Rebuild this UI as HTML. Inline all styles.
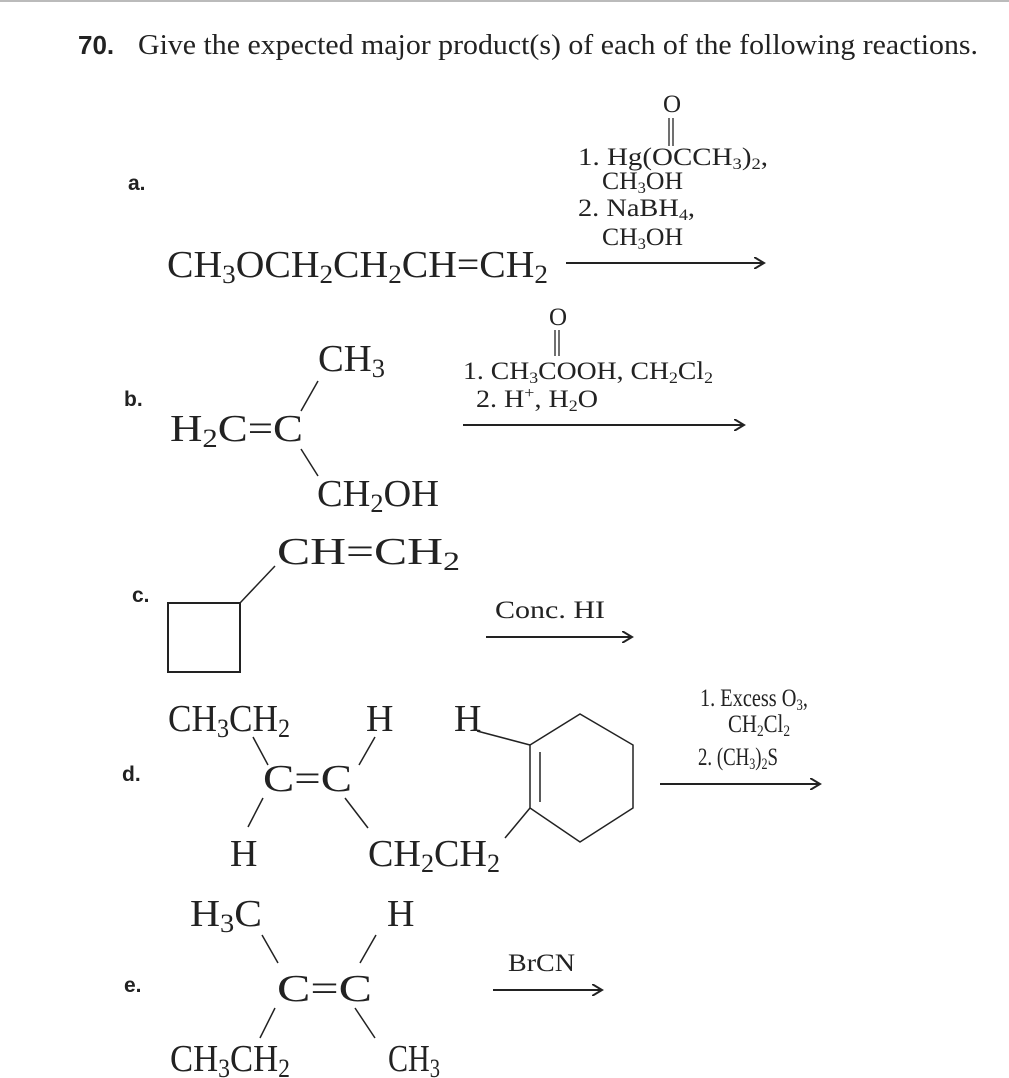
<!DOCTYPE html>
<html><head><meta charset="utf-8"><style>
html,body{margin:0;padding:0;background:#fff;}
svg{display:block}
text{font-family:"Liberation Serif",serif;fill:#222;}
.l{font-family:"Liberation Sans",sans-serif;font-weight:bold;font-size:21px;}
.big{font-size:38px;}
.r{font-size:25px;}
</style></head><body>
<svg width="1009" height="1078" viewBox="0 0 1009 1078" xmlns="http://www.w3.org/2000/svg">
<defs><marker id="ah" markerWidth="12" markerHeight="12" refX="10" refY="6" orient="auto" markerUnits="userSpaceOnUse"><path d="M0,0 L10,6 L0,12" fill="none" stroke="#222" stroke-width="2"/></marker></defs>
<line x1="0" y1="1" x2="1009" y2="1" stroke="#bbb" stroke-width="2"/>
<text x="78" y="54" style="font-family:'Liberation Sans',sans-serif;font-weight:bold;font-size:26px">70.</text>
<text x="138" y="54" style="font-size:28px" textLength="840" lengthAdjust="spacingAndGlyphs">Give the expected major product(s) of each of the following reactions.</text>

<g stroke="#222" stroke-width="2" fill="none">
<line x1="566" y1="263" x2="764" y2="263" marker-end="url(#ah)"/>
<line x1="669" y1="118" x2="669" y2="146" stroke-width="1.3"/><line x1="673" y1="118" x2="673" y2="146" stroke-width="1.3"/>
<line x1="318" y1="381" x2="301" y2="411" stroke-width="1.5"/>
<line x1="301" y1="449" x2="318" y2="476" stroke-width="1.5"/>
<line x1="463" y1="425" x2="744" y2="425" marker-end="url(#ah)"/>
<line x1="555" y1="330" x2="555" y2="356" stroke-width="1.3"/><line x1="559" y1="330" x2="559" y2="356" stroke-width="1.3"/>
<rect x="168" y="603" width="72" height="69" stroke-width="2"/>
<line x1="240" y1="603" x2="275" y2="566" stroke-width="1.5"/>
<line x1="486" y1="637" x2="632" y2="637" marker-end="url(#ah)"/>
<line x1="253" y1="737" x2="268" y2="765" stroke-width="1.5"/>
<line x1="375" y1="737" x2="359" y2="765" stroke-width="1.5"/>
<line x1="263" y1="798" x2="248" y2="827" stroke-width="1.5"/>
<line x1="345" y1="798" x2="368" y2="828" stroke-width="1.5"/>
<line x1="477" y1="731" x2="530" y2="745" stroke-width="1.5"/>
<polygon points="530,745 580,714 633,745 633,808 580,842 530,808" stroke-width="1.5"/>
<line x1="540" y1="752" x2="540" y2="802" stroke-width="1.5"/>
<line x1="505" y1="838" x2="530" y2="808" stroke-width="1.5"/>
<line x1="660" y1="784" x2="820" y2="784" marker-end="url(#ah)"/>
<line x1="262" y1="935" x2="278" y2="963" stroke-width="1.5"/>
<line x1="376" y1="935" x2="360" y2="963" stroke-width="1.5"/>
<line x1="275" y1="1008" x2="260" y2="1038" stroke-width="1.5"/>
<line x1="355" y1="1008" x2="375" y2="1038" stroke-width="1.5"/>
<line x1="493" y1="990" x2="602" y2="990" marker-end="url(#ah)"/>
</g>

<text class="l" x="128" y="190">a.</text>
<text class="big" x="167" y="277" textLength="381" lengthAdjust="spacingAndGlyphs">CH<tspan font-size="26" dy="6">3</tspan><tspan dy="-6">OCH</tspan><tspan font-size="26" dy="6">2</tspan><tspan dy="-6">CH</tspan><tspan font-size="26" dy="6">2</tspan><tspan dy="-6">CH=CH</tspan><tspan font-size="26" dy="6">2</tspan></text>
<text class="r" x="663" y="112">O</text>
<text class="r" x="578" y="165" textLength="190" lengthAdjust="spacingAndGlyphs">1. Hg(OCCH<tspan font-size="16" dy="4">3</tspan><tspan dy="-4">)</tspan><tspan font-size="16" dy="4">2</tspan><tspan dy="-4">,</tspan></text>
<text class="r" x="602" y="189" textLength="81" lengthAdjust="spacingAndGlyphs">CH<tspan font-size="16" dy="4">3</tspan><tspan dy="-4">OH</tspan></text>
<text class="r" x="578" y="216" textLength="117" lengthAdjust="spacingAndGlyphs">2. NaBH<tspan font-size="16" dy="4">4</tspan><tspan dy="-4">,</tspan></text>
<text class="r" x="602" y="245" textLength="81" lengthAdjust="spacingAndGlyphs">CH<tspan font-size="16" dy="4">3</tspan><tspan dy="-4">OH</tspan></text>

<text class="l" x="124" y="406">b.</text>
<text class="big" x="318" y="371" textLength="67" lengthAdjust="spacingAndGlyphs">CH<tspan font-size="26" dy="6">3</tspan></text>
<text class="big" x="170" y="441" textLength="133" lengthAdjust="spacingAndGlyphs">H<tspan font-size="26" dy="6">2</tspan><tspan dy="-6">C=C</tspan></text>
<text class="big" x="317" y="506" textLength="122" lengthAdjust="spacingAndGlyphs">CH<tspan font-size="26" dy="6">2</tspan><tspan dy="-6">OH</tspan></text>
<text class="r" x="549" y="325">O</text>
<text class="r" x="463" y="379" textLength="250" lengthAdjust="spacingAndGlyphs">1. CH<tspan font-size="16" dy="4">3</tspan><tspan dy="-4">COOH, CH</tspan><tspan font-size="16" dy="4">2</tspan><tspan dy="-4">Cl</tspan><tspan font-size="16" dy="4">2</tspan></text>
<text class="r" x="476" y="407" textLength="122" lengthAdjust="spacingAndGlyphs">2. H<tspan font-size="16" dy="-9">+</tspan><tspan dy="9">, H</tspan><tspan font-size="16" dy="4">2</tspan><tspan dy="-4">O</tspan></text>

<text class="l" x="132" y="602">c.</text>
<text class="big" x="277" y="564" textLength="183" lengthAdjust="spacingAndGlyphs">CH=CH<tspan font-size="26" dy="6">2</tspan></text>
<text class="r" x="495" y="618" textLength="110" lengthAdjust="spacingAndGlyphs">Conc. HI</text>

<text class="l" x="122" y="781">d.</text>
<text class="big" x="168" y="731" textLength="122" lengthAdjust="spacingAndGlyphs">CH<tspan font-size="26" dy="6">3</tspan><tspan dy="-6">CH</tspan><tspan font-size="26" dy="6">2</tspan></text>
<text class="big" x="366" y="731">H</text>
<text class="big" x="454" y="731">H</text>
<text class="big" x="263" y="791" textLength="89" lengthAdjust="spacingAndGlyphs">C=C</text>
<text class="big" x="230" y="866">H</text>
<text class="big" x="368" y="866" textLength="132" lengthAdjust="spacingAndGlyphs">CH<tspan font-size="26" dy="6">2</tspan><tspan dy="-6">CH</tspan><tspan font-size="26" dy="6">2</tspan></text>
<text class="r" x="700" y="706" textLength="108" lengthAdjust="spacingAndGlyphs">1. Excess O<tspan font-size="16" dy="4">3</tspan><tspan dy="-4">,</tspan></text>
<text class="r" x="728" y="732" textLength="62" lengthAdjust="spacingAndGlyphs">CH<tspan font-size="16" dy="4">2</tspan><tspan dy="-4">Cl</tspan><tspan font-size="16" dy="4">2</tspan></text>
<text class="r" x="698" y="765" textLength="80" lengthAdjust="spacingAndGlyphs">2. (CH<tspan font-size="16" dy="4">3</tspan><tspan dy="-4">)</tspan><tspan font-size="16" dy="4">2</tspan><tspan dy="-4">S</tspan></text>

<text class="l" x="124" y="992">e.</text>
<text class="big" x="190" y="926" textLength="72" lengthAdjust="spacingAndGlyphs">H<tspan font-size="26" dy="6">3</tspan><tspan dy="-6">C</tspan></text>
<text class="big" x="387" y="926">H</text>
<text class="big" x="277" y="1001" textLength="95" lengthAdjust="spacingAndGlyphs">C=C</text>
<text class="big" x="170" y="1071" textLength="120" lengthAdjust="spacingAndGlyphs">CH<tspan font-size="26" dy="6">3</tspan><tspan dy="-6">CH</tspan><tspan font-size="26" dy="6">2</tspan></text>
<text class="big" x="388" y="1071" textLength="52" lengthAdjust="spacingAndGlyphs">CH<tspan font-size="26" dy="6">3</tspan></text>
<text class="r" x="508" y="971" textLength="67" lengthAdjust="spacingAndGlyphs">BrCN</text>
</svg>
</body></html>
